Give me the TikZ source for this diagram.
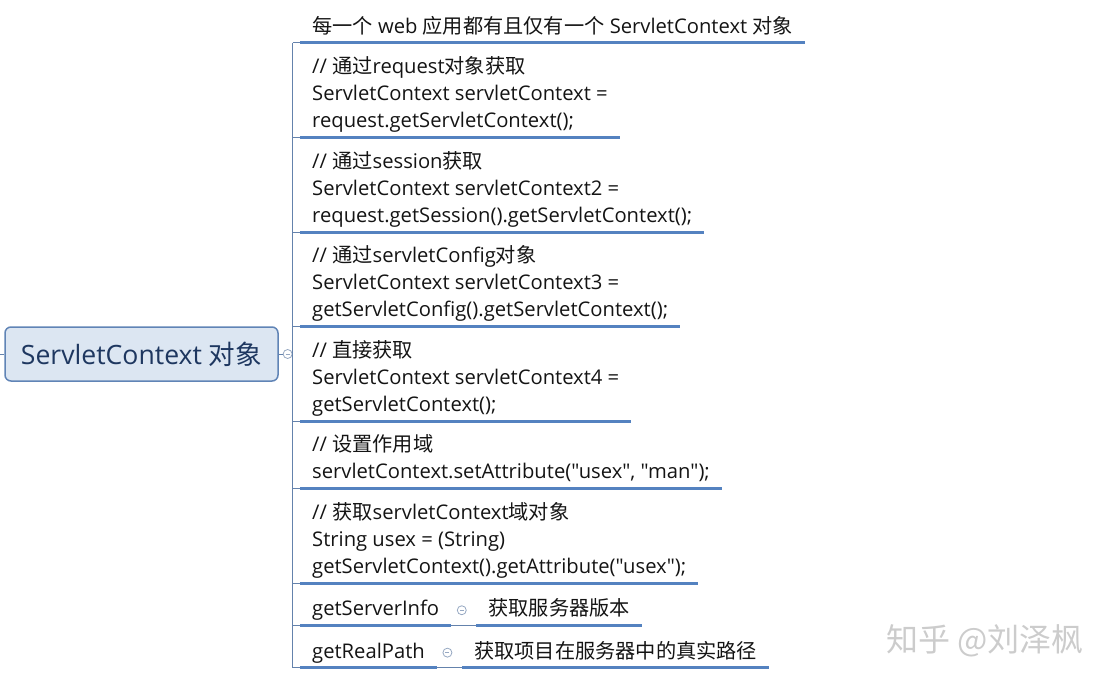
\documentclass[tikz,border=0pt]{standalone}
\usepackage{fontspec}
\setmainfont{Open Sans}[Ligatures=TeXOff]
\newfontfamily\cjk{Noto Sans CJK SC}
\newcommand\zh[1]{{\cjk #1}}
\usetikzlibrary{positioning}

\definecolor{ulblue}{RGB}{84,130,192}
\definecolor{brblue}{RGB}{100,130,172}
\definecolor{rootfill}{RGB}{220,230,242}
\definecolor{rootline}{RGB}{96,132,182}
\definecolor{roottext}{RGB}{30,55,96}
\definecolor{foldgray}{RGB}{150,168,194}
\definecolor{markgray}{RGB}{204,204,204}

\tikzset{
  rootbox/.style={draw=rootline, fill=rootfill, line width=1.5pt, rounded corners=6pt,
    minimum width=273pt, minimum height=54pt, text=roottext, font=\fontsize{26.6}{31}\selectfont},
  topic/.style={align=left, inner xsep=12pt, inner ysep=1.5pt, text=black!92,
    font=\fontsize{20.2}{27}\selectfont, execute at begin node=\strut, execute at end node=\strut},
  uline/.style={draw=ulblue, line width=3pt},
  branch/.style={draw=brblue, line width=1pt},
  foldmark/.style={circle, draw=foldgray, fill=white, line width=0.8pt, minimum size=9pt, inner sep=0pt,
    path picture={\draw[foldgray, line width=0.8pt] ([xshift=-2pt]path picture bounding box.center)
      -- ([xshift=2pt]path picture bounding box.center);}},
  watermark/.style={text=markgray, font=\cjk\fontsize{32}{36}\selectfont}
}

\begin{document}
\begin{tikzpicture}[x=1pt, y=-1pt]
    \useasboundingbox (0,0) rectangle (1117,690);
    % root
    \node (root) [rootbox] at (141.5,354) {ServletContext \zh{对象}};
    \coordinate (stub) at (0,354);
    \node (fold) [foldmark, right=4pt of root.east] {};
    \draw[branch] (stub) -- (root.west);
    \draw[branch] (root.east) -- (fold.west);
    % topics
    \node (i1) [topic, anchor=north west] at (300,12.6)
        {\zh{每一个} web \zh{应用都有且仅有一个} ServletContext \zh{对象}};
    \node (i2) [topic, below=12pt of i1.south west, anchor=north west]
        {// \zh{通过}request\zh{对象获取}\\ ServletContext servletContext =\\ request.getServletContext();};
    \node (i3) [topic, below=12pt of i2.south west, anchor=north west]
        {// \zh{通过}session\zh{获取}\\ ServletContext servletContext2 =\\ request.getSession().getServletContext();};
    \node (i4) [topic, below=12pt of i3.south west, anchor=north west]
        {// \zh{通过}servletConfig\zh{对象}\\ ServletContext servletContext3 =\\ getServletConfig().getServletContext();};
    \node (i5) [topic, below=12pt of i4.south west, anchor=north west]
        {// \zh{直接获取}\\ ServletContext servletContext4 =\\ getServletContext();};
    \node (i6) [topic, below=12pt of i5.south west, anchor=north west]
        {// \zh{设置作用域}\\ servletContext.setAttribute("usex", "man");};
    \node (i7) [topic, below=12pt of i6.south west, anchor=north west]
        {// \zh{获取}servletContext\zh{域对象}\\ String usex = (String)\\ getServletContext().getAttribute("usex");};
    \node (i8) [topic, below=12pt of i7.south west, anchor=north west] {getServerInfo};
    \node (i9) [topic, below=12pt of i8.south west, anchor=north west] {getRealPath};
    % children
    \node (f8) [foldmark, right=5.5pt of i8.east] {};
    \node (c8) [topic, right=25pt of i8.north east, anchor=north west] {\zh{获取服务器版本}};
    \node (f9) [foldmark, right=5.5pt of i9.east] {};
    \node (c9) [topic, right=25pt of i9.north east, anchor=north west] {\zh{获取项目在服务器中的真实路径}};
    % connectors
    \draw[branch] (i1.south west -| fold.east) -- (i9.south west -| fold.east);
    \foreach \k in {1,...,9}
        \draw[branch] (i\k.south west -| fold.east) -- (i\k.south west);
    \draw[branch] (i8.south east) -- (c8.south west);
    \draw[branch] (i9.south east) -- (c9.south west);
    \foreach \k in {i1,i2,i3,i4,i5,i6,i7,i8,i9,c8,c9}
        \draw[uline] (\k.south west) -- (\k.south east);
    % watermark
    \node (mark) [watermark] at (985,641) {知乎 @刘泽枫};
\end{tikzpicture}
\end{document}
